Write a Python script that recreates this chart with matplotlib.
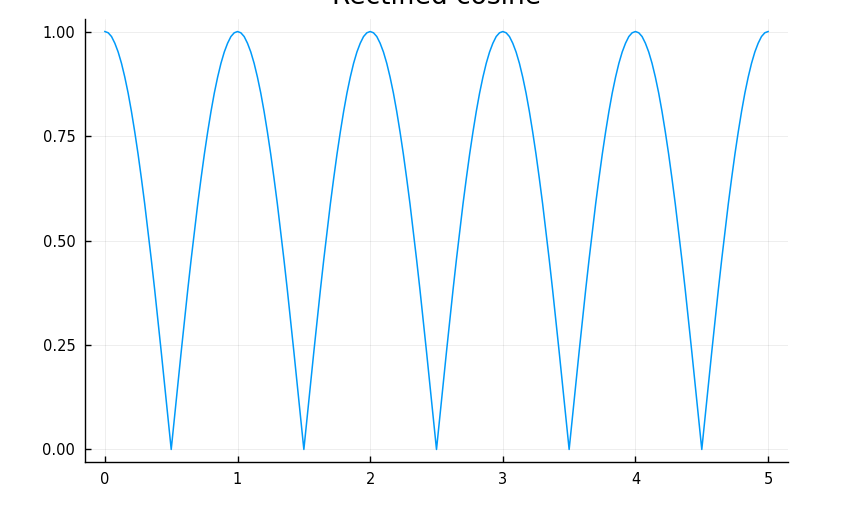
import numpy as np
import matplotlib
matplotlib.use("Agg")
import matplotlib.pyplot as plt

title = "Rectified cosine"
x_values = np.linspace(0, 5, 201)
y_values = [
    1.000, 0.997, 0.988, 0.972, 0.951, 0.924, 0.891, 0.853, 0.809, 0.760,
    0.707, 0.649, 0.588, 0.522, 0.454, 0.383, 0.309, 0.233, 0.156, 0.078,
    0.000, 0.078, 0.156, 0.233, 0.309, 0.383, 0.454, 0.522, 0.588, 0.649,
    0.707, 0.760, 0.809, 0.853, 0.891, 0.924, 0.951, 0.972, 0.988, 0.997,
    1.000, 0.997, 0.988, 0.972, 0.951, 0.924, 0.891, 0.853, 0.809, 0.760,
    0.707, 0.649, 0.588, 0.522, 0.454, 0.383, 0.309, 0.233, 0.156, 0.078,
    0.000, 0.078, 0.156, 0.233, 0.309, 0.383, 0.454, 0.522, 0.588, 0.649,
    0.707, 0.760, 0.809, 0.853, 0.891, 0.924, 0.951, 0.972, 0.988, 0.997,
    1.000, 0.997, 0.988, 0.972, 0.951, 0.924, 0.891, 0.853, 0.809, 0.760,
    0.707, 0.649, 0.588, 0.522, 0.454, 0.383, 0.309, 0.233, 0.156, 0.078,
    0.000, 0.078, 0.156, 0.233, 0.309, 0.383, 0.454, 0.522, 0.588, 0.649,
    0.707, 0.760, 0.809, 0.853, 0.891, 0.924, 0.951, 0.972, 0.988, 0.997,
    1.000, 0.997, 0.988, 0.972, 0.951, 0.924, 0.891, 0.853, 0.809, 0.760,
    0.707, 0.649, 0.588, 0.522, 0.454, 0.383, 0.309, 0.233, 0.156, 0.078,
    0.000, 0.078, 0.156, 0.233, 0.309, 0.383, 0.454, 0.522, 0.588, 0.649,
    0.707, 0.760, 0.809, 0.853, 0.891, 0.924, 0.951, 0.972, 0.988, 0.997,
    1.000, 0.997, 0.988, 0.972, 0.951, 0.924, 0.891, 0.853, 0.809, 0.760,
    0.707, 0.649, 0.588, 0.522, 0.454, 0.383, 0.309, 0.233, 0.156, 0.078,
    0.000, 0.078, 0.156, 0.233, 0.309, 0.383, 0.454, 0.522, 0.588, 0.649,
    0.707, 0.760, 0.809, 0.853, 0.891, 0.924, 0.951, 0.972, 0.988, 0.997,
    1.000,
]
x_ticks = [0, 1, 2, 3, 4, 5]
y_ticks = [0.00, 0.25, 0.50, 0.75, 1.00]
y_tick_labels = ["0.00", "0.25", "0.50", "0.75", "1.00"]

fig = plt.figure(figsize=(8.46, 5.16), dpi=100)
ax = fig.add_axes([85/846, (516-462)/516, (788-85)/846, (462-19)/516])
ax.plot(x_values, y_values, color="#009AFA", lw=1.1)
ax.set_xlim(-0.15, 5.15)
ax.set_ylim(-0.03, 1.03)
ax.set_xticks(x_ticks)
ax.set_xticklabels([str(t) for t in x_ticks])
ax.set_yticks(y_ticks)
ax.set_yticklabels(y_tick_labels)
for s in ["top", "right"]:
    ax.spines[s].set_visible(False)
for s in ["left", "bottom"]:
    ax.spines[s].set_linewidth(1.0)
    ax.spines[s].set_color("black")
ax.tick_params(direction="in", length=4, width=1, labelsize=10.5, pad=7, colors="black")
ax.grid(True, color="black", alpha=0.08, lw=0.6)
ax.set_axisbelow(True)
fig.text(436/846, 1 - 4/516, title, ha="center", va="baseline", fontsize=19)
fig.savefig("out.png", dpi=100)
